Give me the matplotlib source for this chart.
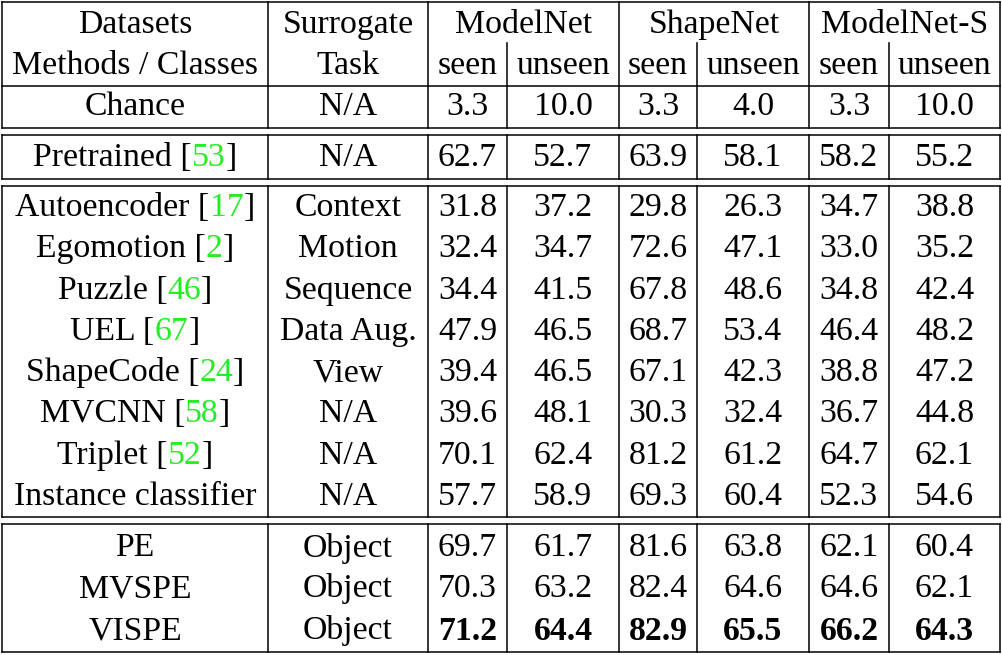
import matplotlib
matplotlib.use("Agg")
import matplotlib.pyplot as plt

methods = ["Chance", "Pretrained [53]", "Autoencoder [17]", "Egomotion [2]", "Puzzle [46]",
           "UEL [67]", "ShapeCode [24]", "MVCNN [58]", "Triplet [52]", "Instance classifier",
           "PE", "MVSPE", "VISPE"]
tasks = ["N/A", "N/A", "Context", "Motion", "Sequence", "Data Aug.", "View", "N/A", "N/A", "N/A",
         "Object", "Object", "Object"]
values = [
    [3.3, 10.0, 3.3, 4.0, 3.3, 10.0],
    [62.7, 52.7, 63.9, 58.1, 58.2, 55.2],
    [31.8, 37.2, 29.8, 26.3, 34.7, 38.8],
    [32.4, 34.7, 72.6, 47.1, 33.0, 35.2],
    [34.4, 41.5, 67.8, 48.6, 34.8, 42.4],
    [47.9, 46.5, 68.7, 53.4, 46.4, 48.2],
    [39.4, 46.5, 67.1, 42.3, 38.8, 47.2],
    [39.6, 48.1, 30.3, 32.4, 36.7, 44.8],
    [70.1, 62.4, 81.2, 61.2, 64.7, 62.1],
    [57.7, 58.9, 69.3, 60.4, 52.3, 54.6],
    [69.7, 61.7, 81.6, 63.8, 62.1, 60.4],
    [70.3, 63.2, 82.4, 64.6, 64.6, 62.1],
    [71.2, 64.4, 82.9, 65.5, 66.2, 64.3],
]
datasets = ["ModelNet", "ShapeNet", "ModelNet-S"]
subcols = ["seen", "unseen"]

W, H = 1002, 655
fig = plt.figure(figsize=(W/100, H/100), dpi=100)
ax = fig.add_axes([0, 0, 1, 1])
ax.set_xlim(0, W); ax.set_ylim(H, 0); ax.axis("off")
FONT = dict(family="Liberation Serif", fontsize=24.3)
GREEN = "#22ee22"
DY = 3

vx = [2, 268, 428, 507, 619, 697, 809, 889, 1000]
col_c = [(vx[i]+vx[i+1])/2 for i in range(len(vx)-1)]
row_y = [104, 155, 205, 246, 288, 329, 370, 411, 453, 494, 545, 586, 628]

def hl(y): ax.plot([vx[0], vx[-1]], [y, y], color="k", lw=1.1)
def vl(x, y0, y1): ax.plot([x, x], [y0, y1], color="k", lw=1.1)

for y in [2, 86, 128, 135, 179, 186, 517, 524, 652]:
    hl(y)
segs = [(2, 128), (135, 179), (186, 517), (524, 652)]
for x in vx:
    for y0, y1 in segs:
        if x in (507, 697, 889) and y0 == 2:
            vl(x, 43, y1)
        else:
            vl(x, y0, y1)

def t(x, y, s, **kw):
    ax.text(x, y + DY, s, ha="center", va="center", **FONT, **kw)

t(col_c[0], 22, "Datasets"); t(col_c[0], 63, "Methods / Classes")
t(col_c[1], 22, "Surrogate"); t(col_c[1], 63, "Task")
for i, d in enumerate(datasets):
    t((vx[2+2*i]+vx[4+2*i])/2, 22, d)
    for j, s in enumerate(subcols):
        t(col_c[2+2*i+j], 63, s)

fig.canvas.draw()
r = fig.canvas.get_renderer()
def width(s):
    tt = ax.text(0, 0, s, **FONT)
    w = tt.get_window_extent(r).width
    tt.remove()
    return w

for k, m in enumerate(methods):
    y = row_y[k]
    if "[" in m:
        a, b = m.split("[")
        parts = [(a + "[", "k"), (b[:-1], GREEN), ("]", "k")]
        total = sum(width(p) for p, _ in parts)
        x = col_c[0] - total/2
        for p, c in parts:
            ax.text(x, y + DY, p, ha="left", va="center", color=c, **FONT)
            x += width(p)
    else:
        t(col_c[0], y, m)
    t(col_c[1], y, tasks[k])
    for j, v in enumerate(values[k]):
        t(col_c[2+j], y, f"{v:.1f}", fontweight="bold" if k == len(methods)-1 else "normal")

fig.savefig("out.png", dpi=100)
